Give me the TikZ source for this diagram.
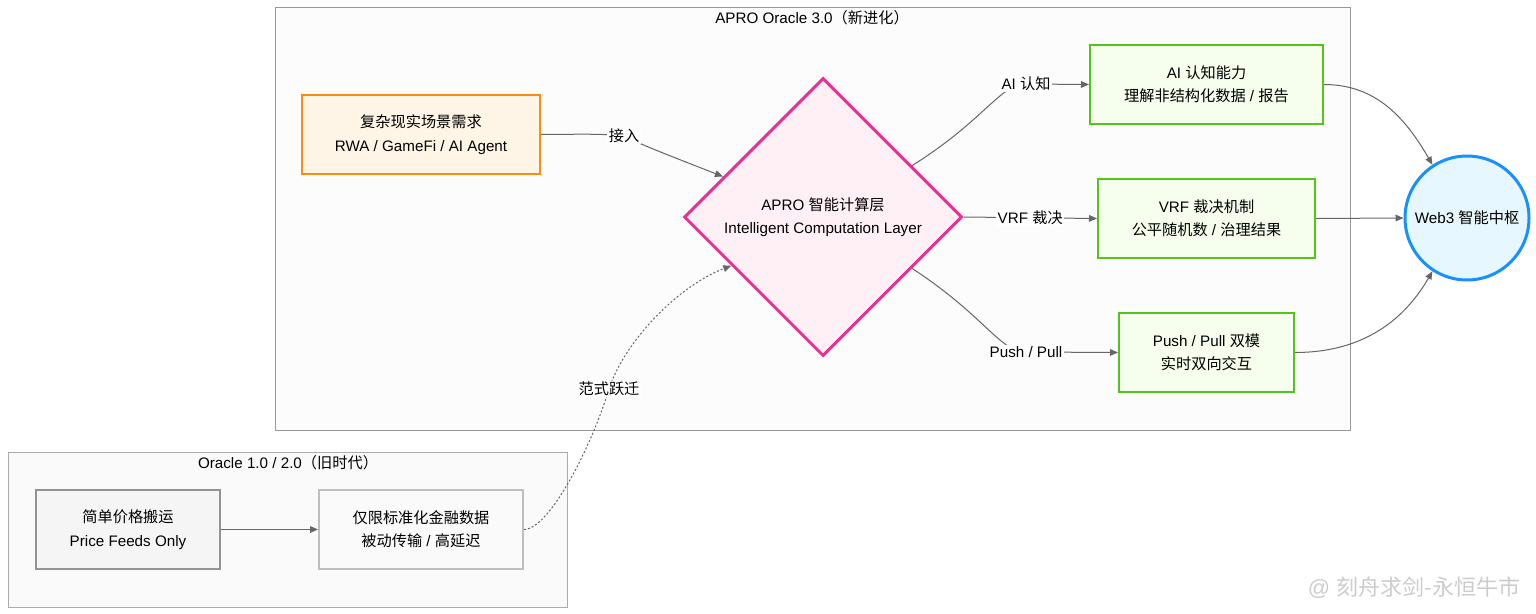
\documentclass[tikz,border=0pt]{standalone}
\usepackage{fontspec}
\setmainfont{Liberation Sans}
\newfontfamily\zh{Noto Sans CJK SC}
\usetikzlibrary{shapes.geometric,arrows.meta}
\definecolor{linegray}{HTML}{666666}
\definecolor{clusterbg}{HTML}{FCFCFC}
\definecolor{oldbg}{HTML}{FAFAFA}
\definecolor{needline}{HTML}{FA8C16}
\definecolor{needbg}{HTML}{FFF5E6}
\definecolor{coreline}{HTML}{EB2F96}
\definecolor{corebg}{HTML}{FFF0F6}
\definecolor{featline}{HTML}{52C41A}
\definecolor{featbg}{HTML}{F6FFED}
\definecolor{hubline}{HTML}{1890FF}
\definecolor{hubbg}{HTML}{E6F7FF}

\begin{document}
\begin{tikzpicture}[x=0.75pt,y=-0.75pt]
\tikzset{every node/.style={font=\fontsize{11.4}{17.5}\selectfont, align=center},
  cluster/.style={draw=gray!80, fill=clusterbg, line width=0.75pt},
  box/.style={draw, line width=1.5pt, minimum height=59.25pt},
  feature/.style={box, draw=featline, fill=featbg},
  flow/.style={draw=linegray, line width=0.75pt, -{Triangle[length=6pt,width=5pt]}},
  lbl/.style={fill=white, inner sep=1pt}}
\useasboundingbox (0,0) rectangle (1536,614);

\node[cluster, minimum width=806.25pt, minimum height=317.25pt] (newera) at (812.5,218.5) {};
\node (neweratitle) at (812,18) {APRO Oracle 3.0{\zh （新进化）}};
\node[cluster, draw=gray!65, fill=oldbg, minimum width=419.25pt, minimum height=116.25pt] (oldera) at (287.5,529.5) {};
\node (olderatitle) at (288,463) {Oracle 1.0 / 2.0{\zh （旧时代）}};

\node[box, draw=needline, fill=needbg, minimum width=178.5pt] (need) at (421,134.5) {{\zh 复杂现实场景需求}\\RWA / GameFi / AI Agent};
\node[diamond, draw=coreline, fill=corebg, line width=2.25pt, minimum size=208.5pt, inner sep=0pt] (core) at (823,217) {APRO {\zh 智能计算层}\\Intelligent Computation Layer};
\node[feature, minimum width=174.75pt] (ai) at (1206.5,84.5) {AI {\zh 认知能力}\\{\zh 理解非结构化数据} / {\zh 报告}};
\node[feature, minimum width=162.75pt] (vrf) at (1206.5,218.5) {VRF {\zh 裁决机制}\\{\zh 公平随机数} / {\zh 治理结果}};
\node[feature, minimum width=131.25pt] (push) at (1206.5,352.5) {Push / Pull {\zh 双模}\\{\zh 实时双向交互}};
\node[circle, draw=hubline, fill=hubbg, line width=2.25pt, minimum size=93pt, inner sep=0pt] (hub) at (1467,218) {Web3 {\zh 智能中枢}};

\node[box, draw=gray!85, fill=gray!8, minimum width=138pt] (simple) at (128,529.5) {{\zh 简单价格搬运}\\Price Feeds Only};
\node[box, draw=gray!50, fill=oldbg, minimum width=153pt] (std) at (421,529.5) {{\zh 仅限标准化金融数据}\\{\zh 被动传输} / {\zh 高延迟}};

\draw[flow] (need.east) .. controls (600,134) .. (624,136) node[lbl] {\zh 接入} .. controls (645,146) .. (core.158);
\draw[flow] (core.30) .. controls (985,120) and (1000,84) .. (1026,84) node[lbl] {AI {\zh 认知}} -- (ai.west);
\draw[flow] (core.east) -- node[lbl] {VRF {\zh 裁决}} (vrf.west);
\draw[flow] (core.-30) .. controls (985,316) and (1000,352) .. (1026,352) node[lbl] {Push / Pull} -- (push.west);
\draw[flow] (ai.east) to[out=0,in=120] (hub.123);
\draw[flow] (vrf.east) -- (hub.west);
\draw[flow] (push.east) to[out=0,in=-120] (hub.-123);
\draw[flow] (simple.east) -- (std.west);
\draw[flow, dash pattern=on 1.5pt off 1.5pt] (std.east) .. controls (550,529) and (592,445) .. (609,389) node[lbl] {\zh 范式跃迁} .. controls (625,340) and (680,285) .. (core.208);

\node[text=gray!40, font=\fontsize{16.5}{20}\selectfont] (mark) at (1414,588) {@ {\zh 刻舟求剑-永恒牛市}};
\end{tikzpicture}
\end{document}
